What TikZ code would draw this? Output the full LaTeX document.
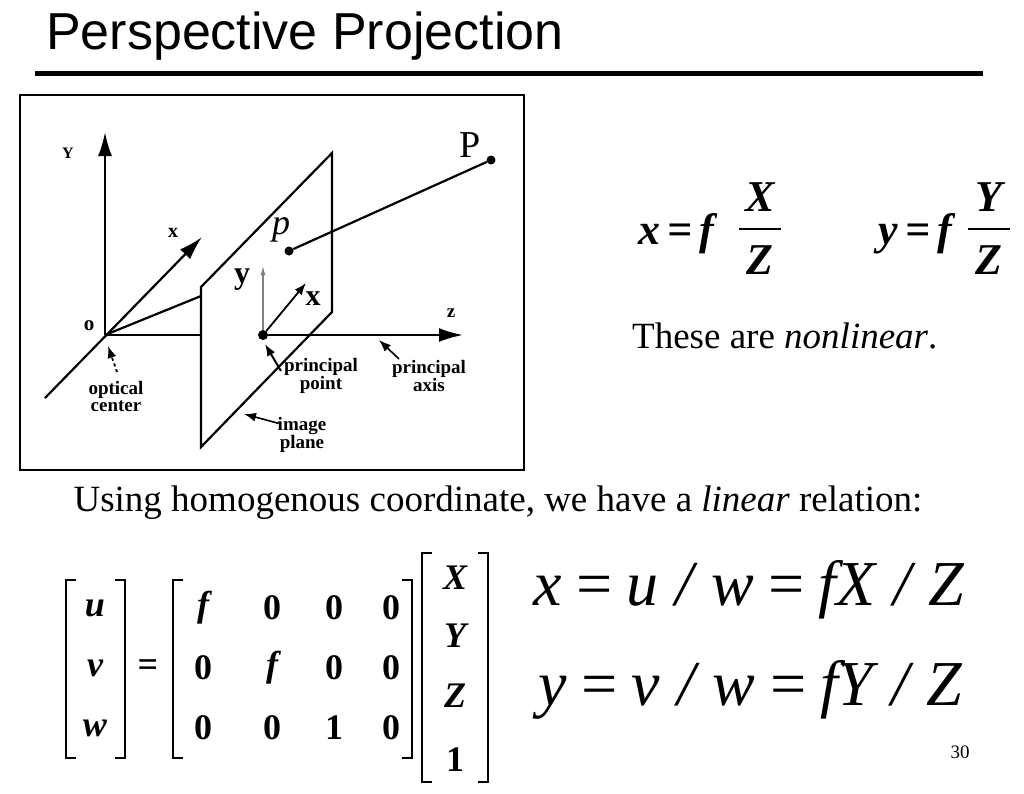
\documentclass[tikz,border=0pt]{standalone}
\usepackage{fontspec}
\usetikzlibrary{arrows.meta}
\setmainfont{Liberation Serif}
\newfontfamily\titlefont{Liberation Sans}
\begin{document}
\begin{tikzpicture}[x=1pt,y=-1pt,
  lbl/.style={font=\fontsize{19}{17}\selectfont\bfseries,align=center,inner sep=0pt},
  ax/.style={line width=2.2pt},
  bigtip/.style={-{Latex[length=24pt,width=14pt]}},
  smtip/.style={-{Latex[length=12pt,width=9pt]}},
  dot/.style={circle,fill,inner sep=0pt,minimum size=9pt},
  brk/.style={line width=2pt},
  ent/.style={font=\fontsize{36}{36}\selectfont\bfseries,inner sep=0pt},
  enti/.style={font=\fontsize{36}{36}\selectfont\bfseries\itshape,inner sep=0pt},
  big/.style={font=\fontsize{64}{64}\selectfont\itshape,inner sep=0pt,anchor=west},
  fr/.style={font=\fontsize{44}{44}\selectfont\bfseries\itshape,inner sep=0pt}]
\useasboundingbox (0,0) rectangle (1024,793);
\fill[white] (0,0) rectangle (1024,793);
\node[anchor=west,inner sep=0pt,font=\titlefont\fontsize{52}{52}\selectfont] (title) at (46,36) {Perspective Projection};
\draw[line width=5pt] (35,73) -- (983,73);
% figure frame
\draw[line width=2pt] (20,95) rectangle (524,470);
\coordinate (O) at (105,335);
\coordinate (ytip) at (105,132);
\coordinate (xtail) at (45,398);
\coordinate (xtip) at (202,237);
\coordinate (ztip) at (463,335);
\coordinate (pl1) at (201,287);
\coordinate (pl2) at (332,153);
\coordinate (pl3) at (332,312);
\coordinate (pl4) at (201,447);
\coordinate (plL) at (201,296);
\coordinate (plZ) at (201,335);
\draw[ax] (pl1) -- (pl2) -- (pl3) -- (pl4) -- cycle;
\draw[ax,bigtip] (O) -- (ytip);
\draw[ax,bigtip] (xtail) -- (xtip);
\draw[ax] (O) -- (plL);
\draw[ax] (O) -- (plZ);
\node[dot,minimum size=10pt] (pp) at (263,335) {};
\draw[ax,bigtip] (pp) -- (ztip);
\draw[gray,line width=1.2pt,-{Latex[length=9pt,width=5pt]}] (pp) -- (263,266);
\draw[line width=1.8pt,smtip] (pp) -- (306,283);
\node[dot] (p) at (289,251) {};
\node[dot] (P) at (491,160) {};
\draw[ax] (p) -- (P);
\node[lbl,font=\fontsize{16}{16}\selectfont\bfseries] at (68,153) {Y};
\node[lbl,font=\fontsize{20}{20}\selectfont\bfseries] at (173,233) {x};
\node[lbl,font=\fontsize{19}{19}\selectfont\bfseries] at (451,313) {z};
\node[lbl,font=\fontsize{21}{21}\selectfont\bfseries] at (89,326) {o};
\node[lbl,font=\fontsize{32}{32}\selectfont\bfseries] at (242,280) {y};
\node[lbl,font=\fontsize{30}{30}\selectfont\bfseries] at (313,299) {x};
\node[lbl,font=\fontsize{36}{36}\selectfont\itshape] at (281,230) {p};
\node[lbl,font=\fontsize{38}{38}\selectfont] at (470,145) {P};
\node[lbl] (oc) at (116,396) {optical\\center};
\node[lbl] (ppl) at (321,376) {principal\\point};
\node[lbl] (pal) at (429,376) {principal\\axis};
\node[lbl] (ipl) at (302,435) {image\\plane};
\draw[line width=1.8pt,smtip,dashed] (117,372) -- (108,346);
\draw[line width=2pt,smtip] (281,371) -- (265,344);
\draw[line width=1.6pt,smtip] (399,359) -- (379,340);
\draw[line width=1.6pt,smtip] (281,424) -- (244,414);
% fractions
\node[fr,anchor=east] (xeq) at (722,234) {x\,=\,f\,};
\node[fr] (X) at (760,197) {X};
\node[fr] (Z1) at (760,260) {Z};
\draw[line width=2pt] (739,229) -- (781,229);
\node[fr,anchor=east] (yeq) at (960,234) {y\,=\,f\,};
\node[fr] (Y) at (989,197) {Y};
\node[fr] (Z2) at (989,260) {Z};
\draw[line width=2pt] (968,229) -- (1010,229);
\node[anchor=west,inner sep=0pt,font=\fontsize{37}{37}\selectfont] (nl) at (632,336) {These are \textit{nonlinear}.};
\node[inner sep=0pt,font=\fontsize{37}{37}\selectfont] (hom) at (498,503) {Using homogenous coordinate, we have a \textit{linear} relation:};
% matrices
\node[enti] (u) at (95,608) {u};
\node[enti] (v) at (95,668) {v};
\node[enti] (w) at (95,728) {w};
\node[ent] (eq) at (148,668) {=};
\node[enti] (m1a) at (203,608) {f};
\node[ent] (m1b) at (272,608) {0};
\node[ent] (m1c) at (334,608) {0};
\node[ent] (m1d) at (391,608) {0};
\node[ent] (m2a) at (203,668) {0};
\node[enti] (m2b) at (272,668) {f};
\node[ent] (m2c) at (334,668) {0};
\node[ent] (m2d) at (391,668) {0};
\node[ent] (m3a) at (203,728) {0};
\node[ent] (m3b) at (272,728) {0};
\node[ent] (m3c) at (334,728) {1};
\node[ent] (m3d) at (391,728) {0};
\node[enti] (VX) at (455,578) {X};
\node[enti] (VY) at (455,636) {Y};
\node[enti] (VZ) at (455,696) {Z};
\node[ent] (V1) at (455,760) {1};
\draw[brk] (76,580) -- (66,580) -- (66,758) -- (76,758);
\draw[brk] (115,580) -- (125,580) -- (125,758) -- (115,758);
\draw[brk] (183,580) -- (173,580) -- (173,758) -- (183,758);
\draw[brk] (402,580) -- (412,580) -- (412,758) -- (402,758);
\draw[brk] (432,553) -- (422,553) -- (422,782) -- (432,782);
\draw[brk] (478,553) -- (488,553) -- (488,782) -- (478,782);
\node[big] (e1) at (533,590) {x\,=\,u\;/\;w\,=\,fX\;/\;Z};
\node[big] (e2) at (538,690) {y\,=\,v\;/\;w\,=\,fY\;/\;Z};
\node[inner sep=0pt,font=\fontsize{19}{19}\selectfont] (pg) at (960,752) {30};
\end{tikzpicture}
\end{document}
